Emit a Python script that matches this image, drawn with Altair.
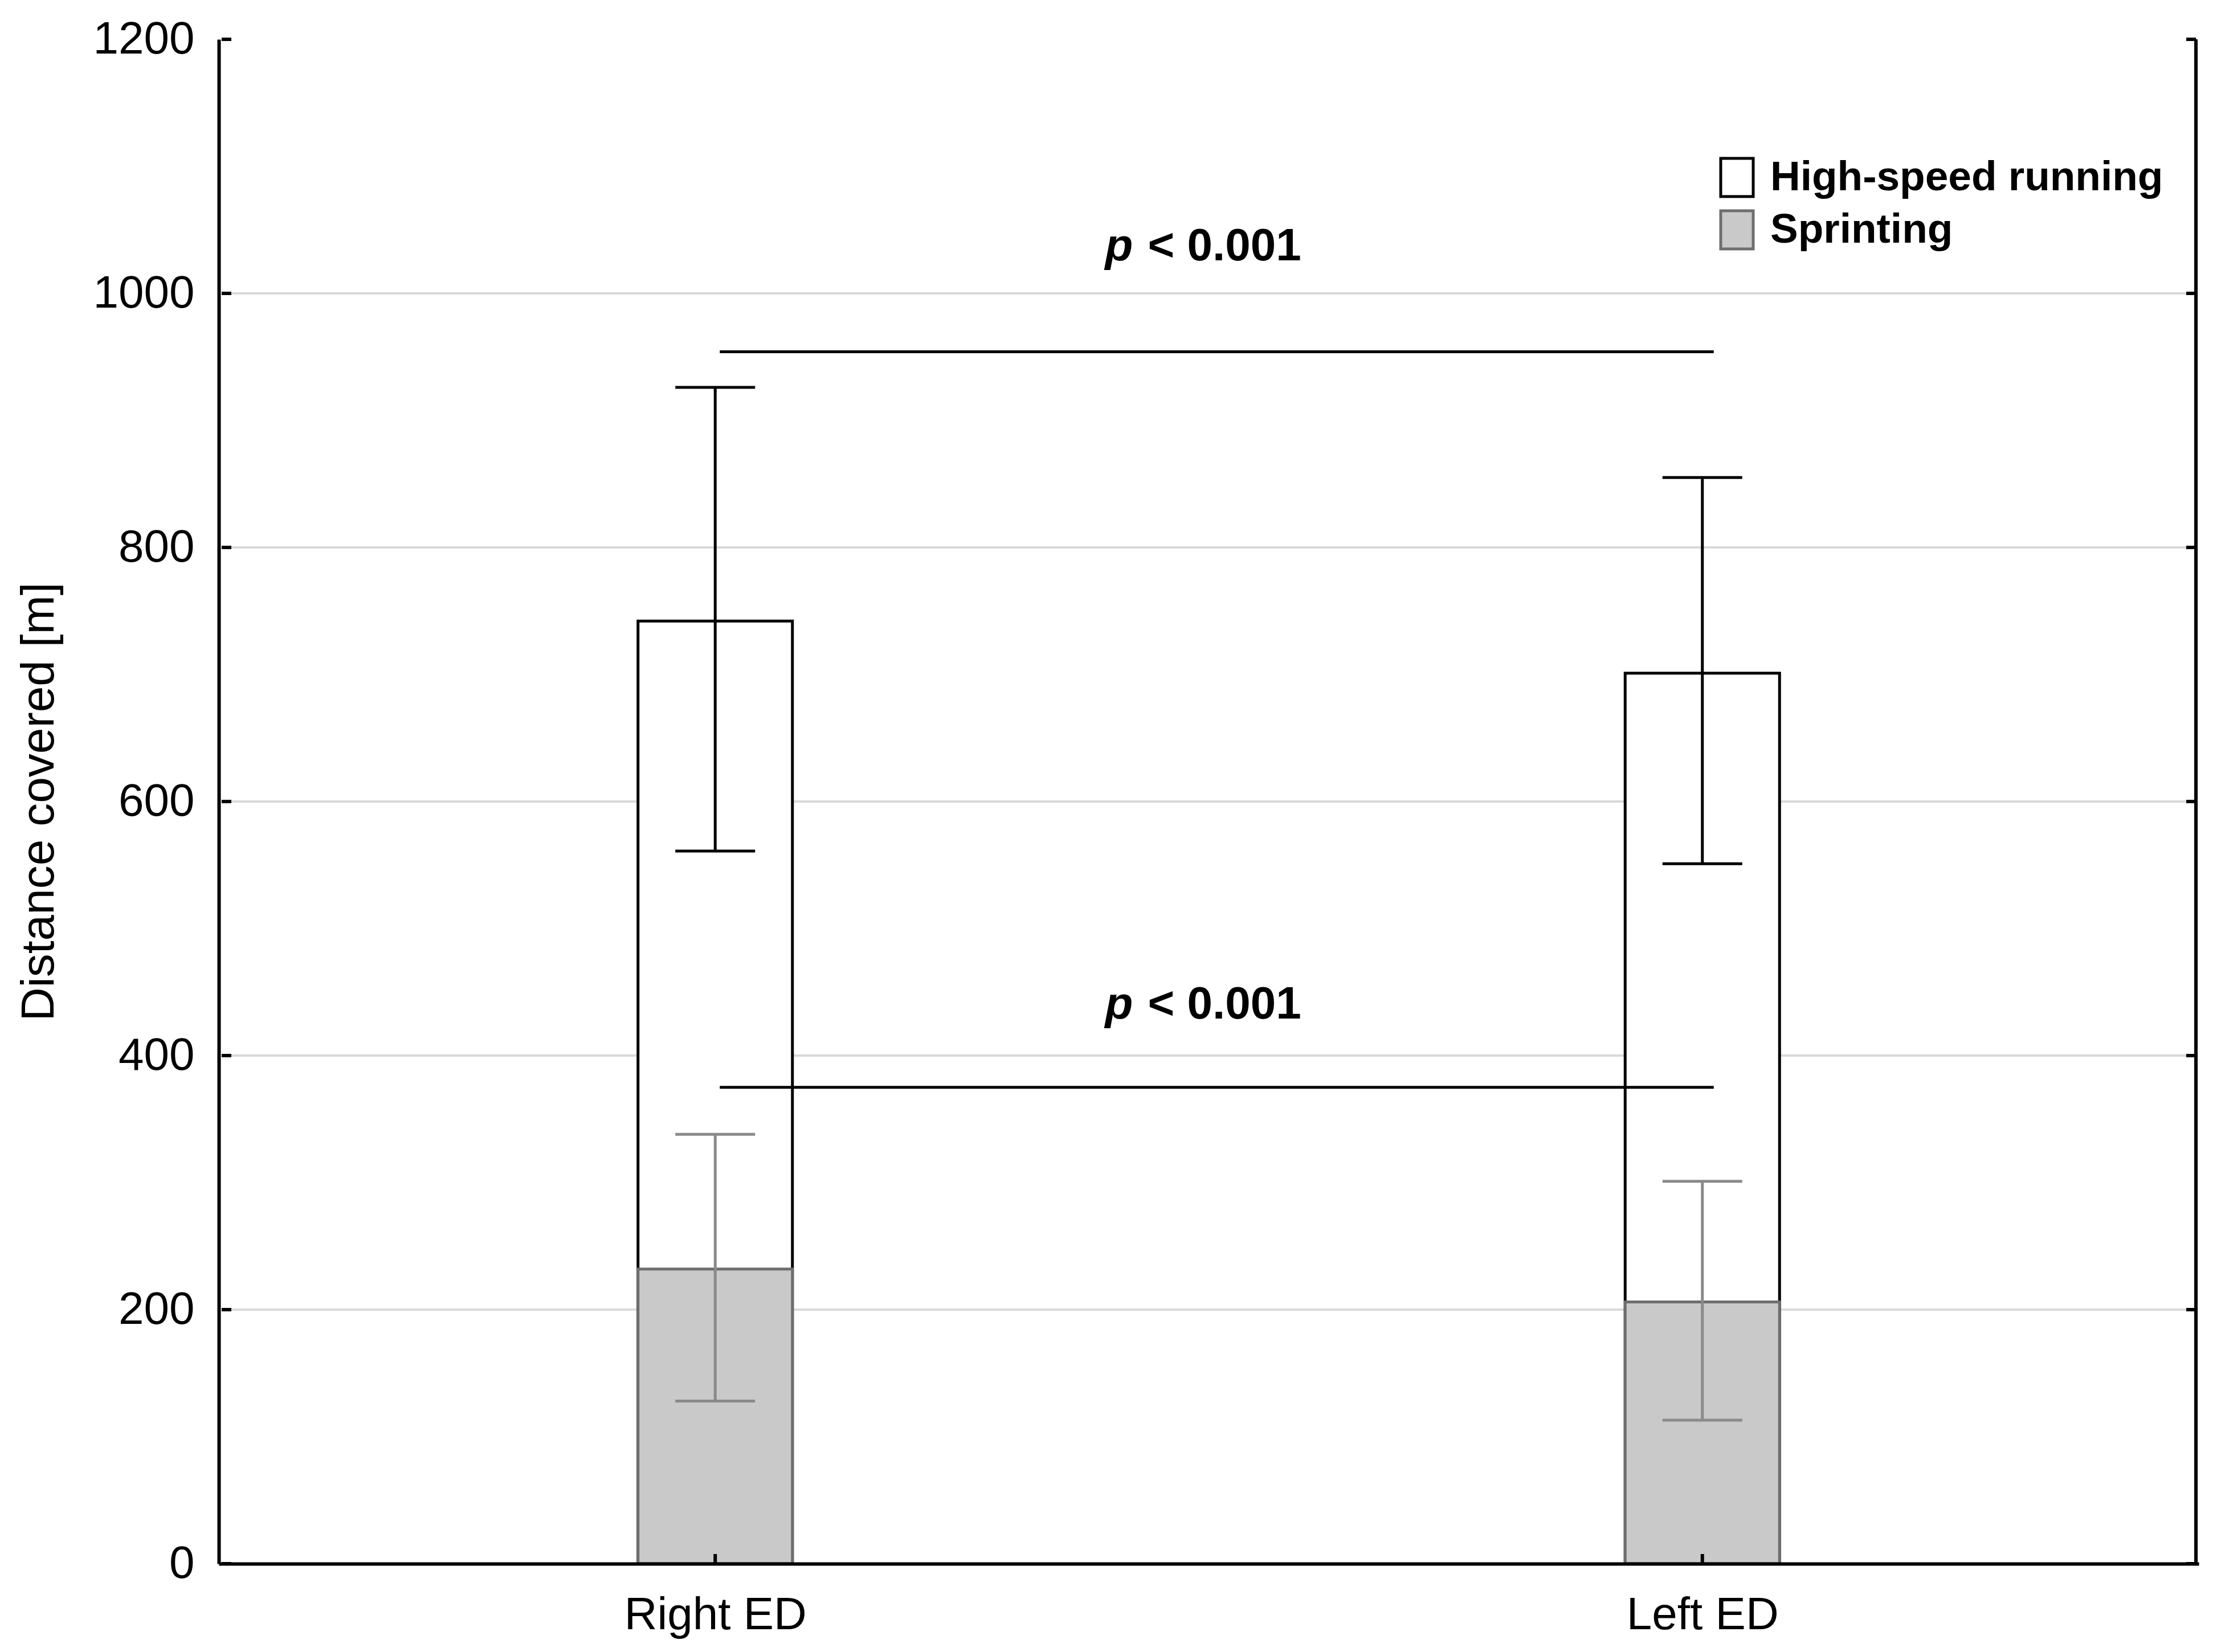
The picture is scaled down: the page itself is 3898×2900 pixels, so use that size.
import json
import altair as alt
import pandas as pd

FONT = "Liberation Sans"

# ---- data ----
categories = ["Right ED", "Left ED"]
series = ["High-speed running", "Sprinting"]
hsr_mean = [742, 701]
hsr_lower = [561, 551]
hsr_upper = [926, 855]
spr_mean = [232, 206]
spr_lower = [128, 113]
spr_upper = [338, 301]

sig_from = ["Right ED", "Right ED"]
sig_to = ["Left ED", "Left ED"]
sig_line_y = [954, 375]
sig_label_y = [1026, 429]
sig_p = ["p", "p"]
sig_rest = ["< 0.001", "< 0.001"]

y_ticks = [0, 200, 400, 600, 800, 1000, 1200]
grid_vals = [200, 400, 600, 800, 1000]

# ---- tables ----
rows = []
for s, m, lo, hi in [(series[0], hsr_mean, hsr_lower, hsr_upper),
                     (series[1], spr_mean, spr_lower, spr_upper)]:
    for c, mm, l, h in zip(categories, m, lo, hi):
        rows.append(dict(cat=c, series=s, mean=mm, lo=l, hi=h))
df = pd.DataFrame(rows)

sig_df = pd.DataFrame(dict(src=sig_from, dst=sig_to, line_y=sig_line_y,
                           label_y=sig_label_y, p=sig_p, rest=sig_rest))
cat_df = pd.DataFrame(dict(cat=categories))
grid_df = pd.DataFrame(dict(v=grid_vals))
tick_df = pd.DataFrame(dict(v=y_ticks))

CATS = json.dumps(categories).replace('"', "'")
pos_expr = f"indexof({CATS}, datum.cat) + 0.5"

YTITLE = "Distance covered [m]"

x_axis = alt.Axis(values=[0.5, 1.5], labelExpr=f"{CATS}[floor(datum.value)]",
                  grid=False, ticks=False, domainColor="black", domainWidth=6,
                  labelFontSize=80, labelFont=FONT, labelColor="black",
                  labelPadding=51, labelFlush=False, labelLimit=2000, zindex=1)
y_axis = alt.Axis(values=y_ticks, format="d", grid=False, ticks=False,
                  domainColor="black", domainWidth=6, labelFontSize=80,
                  labelFont=FONT, labelColor="black", labelPadding=43,
                  labelLimit=2000, titleFontSize=82,
                  titleFont=FONT, titleFontWeight="normal", titleColor="black",
                  titleX=-291, titleY=1338, titleAngle=270,
                  titleBaseline="alphabetic", titleAlign="center", zindex=1)

xs = alt.Scale(domain=[0, 2], nice=False, zero=False)
ys = alt.Scale(domain=[0, 1200], nice=False)

legend = alt.Legend(title=None, orient="none", legendX=2628, legendY=206,
                    symbolType="M-0.85,-1H0.85V1H-0.85Z", symbolSize=4500,
                    symbolStrokeWidth=5, labelFontSize=73,
                    labelFontWeight="bold", labelFont=FONT, labelColor="black",
                    labelLimit=1500, labelOffset=22, rowPadding=3, padding=0)

# gridlines (under bars)
grid = alt.Chart(grid_df).mark_rule(color="#d9d9d9", strokeWidth=4).encode(
    x=alt.datum(0, scale=xs), x2=alt.datum(2),
    y=alt.Y("v:Q", scale=ys, axis=y_axis, title=YTITLE),
)

base = alt.Chart(df).transform_calculate(pos=pos_expr)

bars = base.mark_bar(size=271, strokeWidth=5).encode(
    x=alt.X("pos:Q", scale=xs, axis=x_axis, title=None),
    y=alt.Y("mean:Q", stack=None, title=YTITLE),
    fill=alt.Fill("series:N", scale=alt.Scale(domain=series, range=["#ffffff", "#c9c9c9"]), legend=legend),
    stroke=alt.Stroke("series:N", scale=alt.Scale(domain=series, range=["#000000", "#6e6e6e"]), legend=legend),
    order=alt.Order("series:N"),
)


def errbars(sname, color, width):
    b = base.transform_filter(alt.datum.series == sname)
    stem = b.mark_rule(color=color, strokeWidth=width).encode(
        x=alt.X("pos:Q", title=None),
        y=alt.Y("lo:Q", title=YTITLE), y2="hi:Q")
    caps = b.transform_fold(["lo", "hi"], as_=["k", "val"]).mark_tick(
        orient="horizontal", size=140, thickness=width, color=color, opacity=1
    ).encode(x=alt.X("pos:Q", title=None), y=alt.Y("val:Q", title=YTITLE))
    return [stem, caps]


sig_base = alt.Chart(sig_df).transform_calculate(
    x1=f"indexof({CATS}, datum.src) + 0.5",
    x2=f"indexof({CATS}, datum.dst) + 0.5",
).transform_calculate(xm="(datum.x1 + datum.x2) / 2")

sig_lines = sig_base.mark_rule(color="black", strokeWidth=5, xOffset=8, x2Offset=20).encode(
    x=alt.X("x1:Q", title=None), x2="x2:Q", y=alt.Y("line_y:Q", title=YTITLE))
sig_p_txt = sig_base.mark_text(align="left", baseline="alphabetic", dx=-182,
                               fontSize=80, fontWeight="bold", fontStyle="italic",
                               font=FONT, color="black").encode(
    x=alt.X("xm:Q", title=None), y=alt.Y("label_y:Q", title=YTITLE), text="p:N")
sig_rest_txt = sig_base.mark_text(align="left", baseline="alphabetic", dx=-107,
                                  fontSize=80, fontWeight="bold", font=FONT,
                                  color="black").encode(
    x=alt.X("xm:Q", title=None), y=alt.Y("label_y:Q", title=YTITLE), text="rest:N")

# inward axis ticks and right frame line
left_ticks = alt.Chart(tick_df).mark_tick(orient="horizontal", size=17, thickness=6,
                                          color="black", opacity=1, xOffset=8.5).encode(
    x=alt.datum(0), y=alt.Y("v:Q", title=YTITLE))
right_ticks = alt.Chart(tick_df).mark_tick(orient="horizontal", size=17, thickness=6,
                                           color="black", opacity=1, xOffset=-8.5).encode(
    x=alt.datum(2), y=alt.Y("v:Q", title=YTITLE))
bottom_ticks = alt.Chart(cat_df).transform_calculate(pos=pos_expr).mark_tick(
    orient="vertical", size=17, thickness=6, color="black", opacity=1, yOffset=-8.5).encode(
    x=alt.X("pos:Q", title=None), y=alt.datum(0))
right_frame = alt.Chart(cat_df).mark_rule(color="black", strokeWidth=6).encode(
    x=alt.datum(2), y=alt.datum(0), y2=alt.datum(1200))

layers = [grid, bars]
layers += errbars(series[1], "#8a8a8a", 5)
layers += errbars(series[0], "#000000", 5)
layers += [sig_lines, sig_p_txt, sig_rest_txt, left_ticks, right_ticks, bottom_ticks, right_frame]

chart = alt.layer(*layers).properties(
    width=3475, height=2676,
    autosize=alt.AutoSizeParams(type="none"),
    padding={"left": 376, "top": 61, "right": 30, "bottom": 140},
    background="white",
).configure_view(stroke=None)

chart.save("out.html", embed_options={"renderer": "svg", "actions": False})
